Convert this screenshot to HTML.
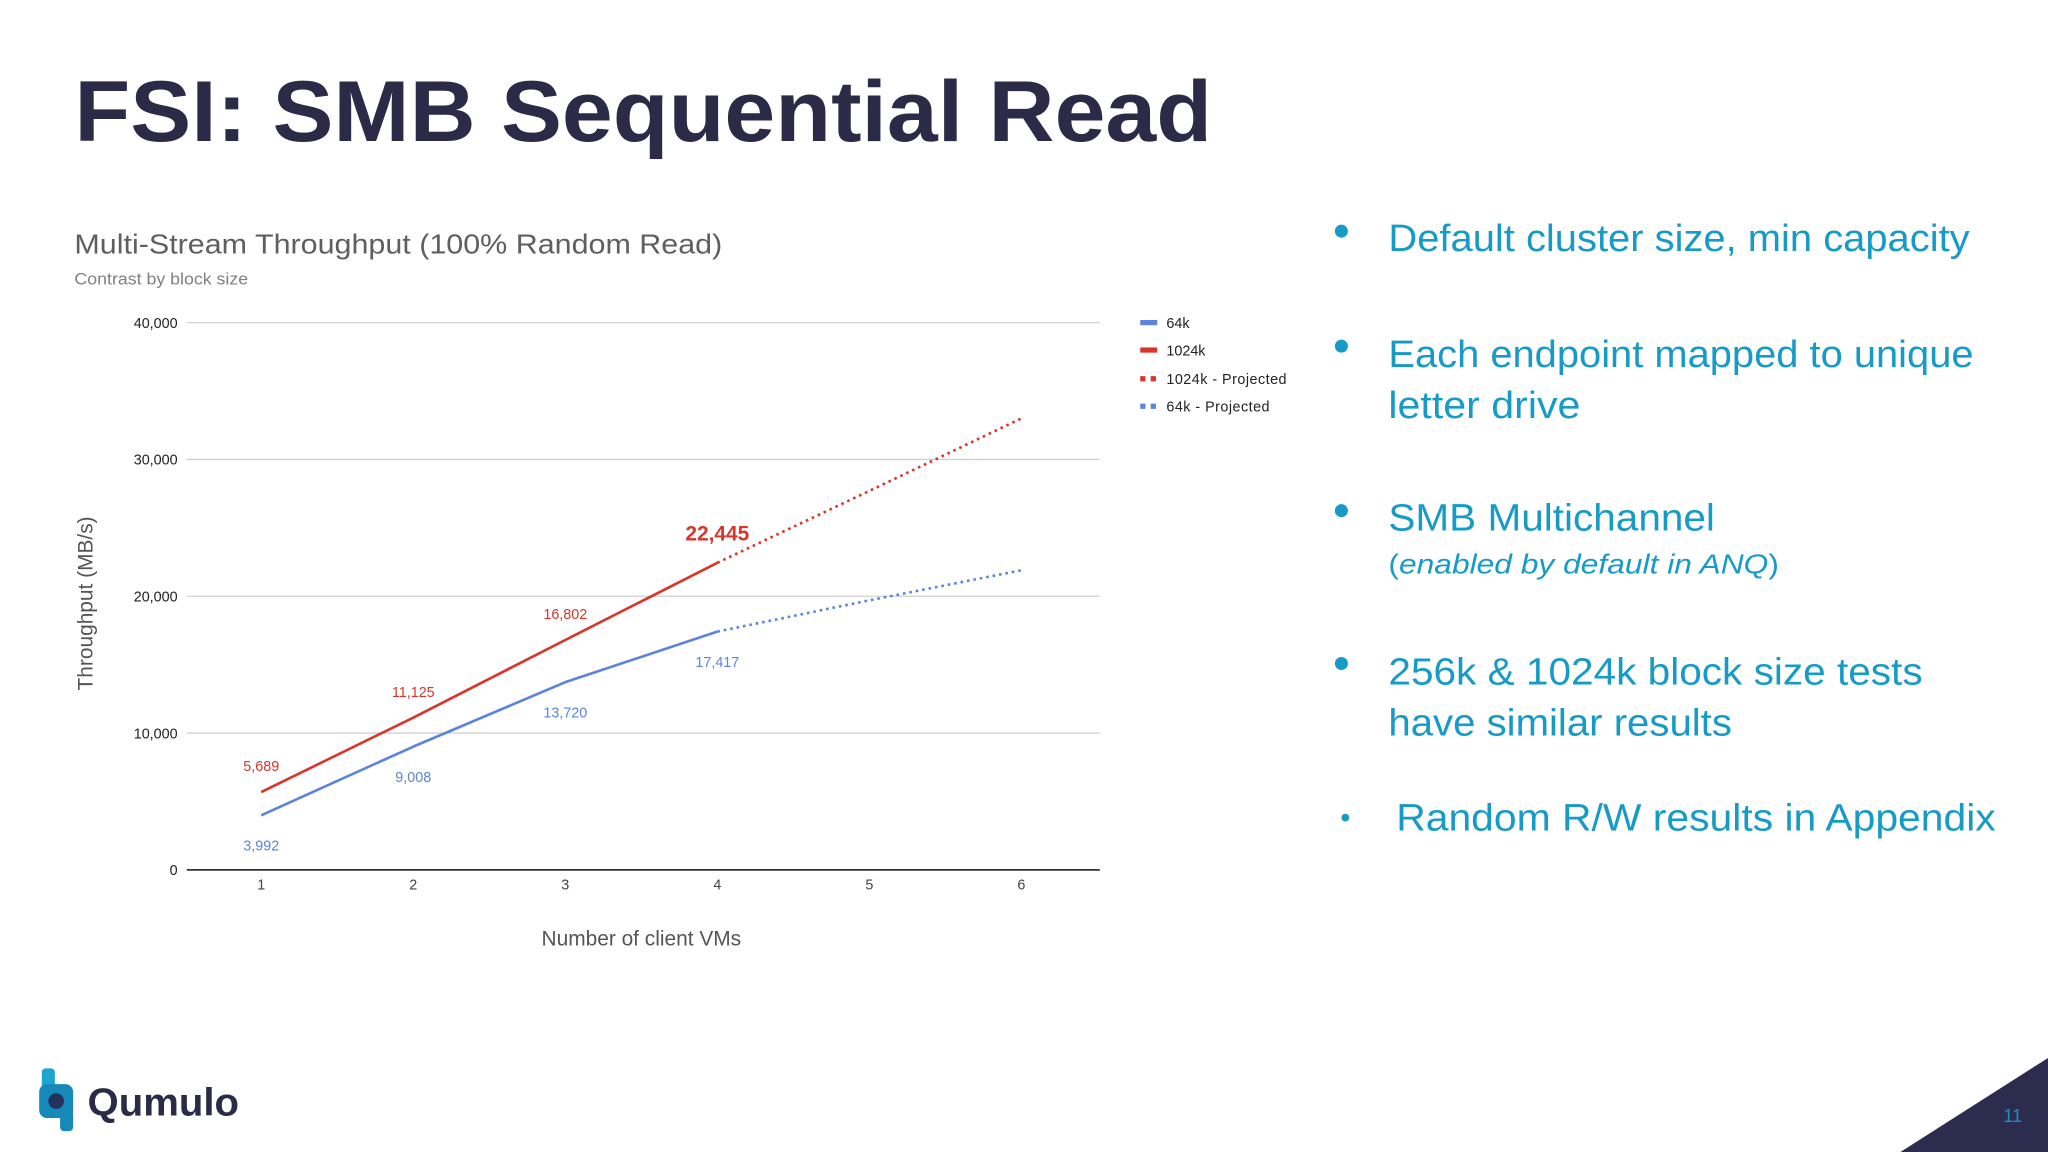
<!DOCTYPE html>
<html><head><meta charset="utf-8"><style>
html,body{margin:0;padding:0;background:#fff;}
svg{display:block;font-family:"Liberation Sans",sans-serif;}
</style></head><body>
<svg id="slide" width="2048" height="1152" viewBox="0 0 1568 882" xmlns="http://www.w3.org/2000/svg">
<rect width="1568" height="882" fill="#fff"/>
<text x="57" y="108" font-size="66" font-weight="bold" fill="#2b2b47" textLength="871" lengthAdjust="spacingAndGlyphs">FSI: SMB Sequential Read</text>
<text x="57" y="194" font-size="21" fill="#5f5f5f" textLength="496" lengthAdjust="spacingAndGlyphs">Multi-Stream Throughput (100% Random Read)</text>
<text x="57" y="218" font-size="12.5" fill="#808080" textLength="133" lengthAdjust="spacingAndGlyphs">Contrast by block size</text>
<g id="grid"></g>
<g id="series"></g>
<g id="labels"></g>
<text transform="translate(71,462) rotate(-90)" text-anchor="middle" font-size="16" fill="#555">Throughput (MB/s)</text>
<text x="491" y="724" text-anchor="middle" font-size="16" fill="#555">Number of client VMs</text>
<g font-size="11" fill="#222">
<rect x="873" y="245" width="13" height="4" fill="#5b84de"/><text x="893" y="251">64k</text>
<rect x="873" y="266" width="13" height="4" fill="#d9352b"/><text x="893" y="272">1024k</text>
<line x1="873" y1="290" x2="887" y2="290" stroke="#d9352b" stroke-width="4" stroke-dasharray="4,4"/><text x="893" y="294" textLength="92">1024k - Projected</text>
<line x1="873" y1="311" x2="887" y2="311" stroke="#5b84de" stroke-width="4" stroke-dasharray="4,4"/><text x="893" y="315" textLength="79">64k - Projected</text>
</g>
<g fill="#169bc6" font-size="29">
<circle cx="1027" cy="177" r="5"/><text x="1063" y="192" textLength="445" lengthAdjust="spacingAndGlyphs">Default cluster size, min capacity</text>
<circle cx="1027" cy="265" r="5"/><text x="1063" y="281" textLength="448" lengthAdjust="spacingAndGlyphs">Each endpoint mapped to unique</text><text x="1063" y="320" textLength="147" lengthAdjust="spacingAndGlyphs">letter drive</text>
<circle cx="1027" cy="391" r="5"/><text x="1063" y="406" textLength="250" lengthAdjust="spacingAndGlyphs">SMB Multichannel</text>
<text x="1063" y="439" font-size="21" textLength="299" lengthAdjust="spacingAndGlyphs">(<tspan font-style="italic">enabled by default in ANQ</tspan>)</text>
<circle cx="1027" cy="508" r="5"/><text x="1063" y="524" textLength="409" lengthAdjust="spacingAndGlyphs">256k &amp; 1024k block size tests</text><text x="1063" y="563" textLength="263" lengthAdjust="spacingAndGlyphs">have similar results</text>
<circle cx="1030" cy="626" r="3"/><text x="1069" y="636" textLength="459" lengthAdjust="spacingAndGlyphs">Random R/W results in Appendix</text>
</g>
<g>
<rect x="32" y="818" width="10" height="18" rx="3" fill="#1aa6cf"/>
<rect x="30" y="830" width="26" height="26" rx="6" fill="#1689b8"/>
<circle cx="43" cy="843" r="6" fill="#23335e"/>
<rect x="46" y="850" width="10" height="16" rx="3" fill="#1689b8"/>
<text x="67" y="854" font-size="30" font-weight="bold" fill="#2b2b47" textLength="116" lengthAdjust="spacingAndGlyphs">Qumulo</text>
</g>
<polygon points="1455,882 1568,810 1568,882" fill="#2c2c4e"/>
<text x="1541" y="859" font-size="14" fill="#1a8fc0" text-anchor="middle">11</text>
</svg>
<script>
const categories=[1,2,3,4,5,6];
const yTicks=[0,10000,20000,30000,40000];
const yTickLabels=["0","10,000","20,000","30,000","40,000"];
const s64k=[3992,9008,13720,17417];
const s1024k=[5689,11125,16802,22445];
const s64kProj=[17417,19700,21900];
const s1024kProj=[22445,27700,33000];
const NS="http://www.w3.org/2000/svg";
const xS=v=>200+(v-1)*116.4;
const yS=v=>666-v/10000*104.75;
function mk(tag,attrs,parent){const e=document.createElementNS(NS,tag);for(const k in attrs)e.setAttribute(k,attrs[k]);parent.appendChild(e);return e;}
const grid=document.getElementById('grid'),series=document.getElementById('series'),labels=document.getElementById('labels');
yTicks.forEach((t,i)=>{
 const l=mk('line',{x1:143,x2:842,y1:yS(t),y2:yS(t),stroke:t===0?'#333':'#d0d0d0','stroke-width':t===0?1.3:1},grid);
 
 
 const tx=mk('text',{x:136,y:yS(t)+4,'text-anchor':'end','font-size':11,fill:'#222'},grid);
 tx.textContent=yTickLabels[i];
 
 
});
categories.forEach(c=>{
 const tx=mk('text',{x:xS(c),y:681,'text-anchor':'middle','font-size':11,fill:'#444'},grid);
 tx.textContent=String(c);
 
 
});
function line(vals,start,color,dashed,name){
 const pts=vals.map((v,i)=>xS(categories[start+i])+','+yS(v)).join(' ');
 const p=mk('polyline',{points:pts,fill:'none',stroke:color,'stroke-width':2,'stroke-dasharray':dashed?'2,3':'none','stroke-linejoin':'round'},series);
 
 
}
line(s64kProj,3,'#5b84de',true,'line-64k-projected');
line(s1024kProj,3,'#d9352b',true,'line-1024k-projected');
line(s64k,0,'#5b84de',false,'line-64k');
line(s1024k,0,'#d9352b',false,'line-1024k');
function fmt(v){return v.toLocaleString('en-US');}
s1024k.forEach((v,i)=>{
 const last=i===s1024k.length-1;
 const tx=mk('text',{x:xS(categories[i]),y:yS(v)-(last?17:16),'text-anchor':'middle','font-size':last?16:11,'font-weight':last?'bold':'normal',fill:'#d9352b'},labels);
 tx.textContent=fmt(v);
 
 
});
s64k.forEach((v,i)=>{
 const tx=mk('text',{x:xS(categories[i]),y:yS(v)+27,'text-anchor':'middle','font-size':11,fill:'#5b84de'},labels);
 tx.textContent=fmt(v);
 
 
});
</script>
</body></html>
